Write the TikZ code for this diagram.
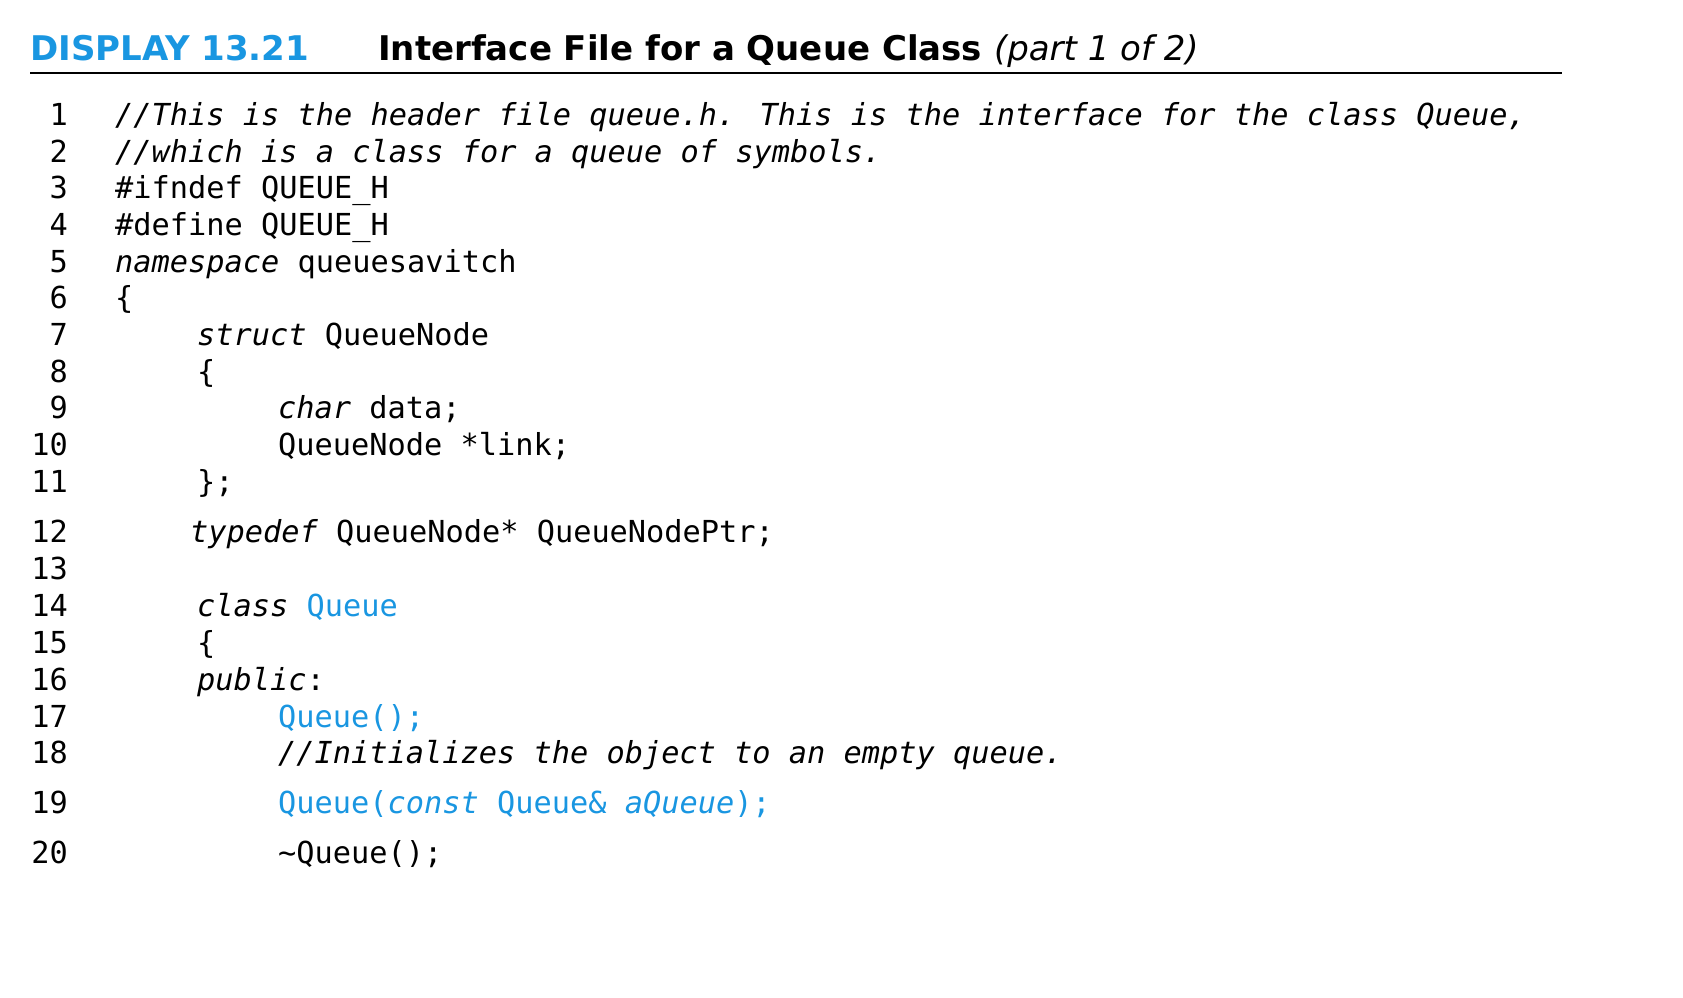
\documentclass[tikz,border=0pt]{standalone}
\usepackage{fontspec}
\setmainfont{DejaVu Sans}
\newfontfamily\codefont{DejaVu Sans Mono}
\definecolor{qblue}{RGB}{25,150,225}
\begin{document}
\begin{tikzpicture}[x=1pt,y=-1pt,
  code/.style={anchor=base west,inner sep=0pt,font=\codefont\fontsize{30.3}{31}\selectfont},
  num/.style={anchor=base east,inner sep=0pt,font=\codefont\fontsize{30.3}{31}\selectfont},
  ttl/.style={anchor=base west,inner sep=0pt,font=\bfseries\fontsize{34}{35}\selectfont}]
\useasboundingbox (0,0) rectangle (1683,997);
\node[ttl,text=qblue] (d) at (30,60) {DISPLAY 13.21};
\node[ttl] (t) at (378,60) {Interface File for a Queue Class \textmd{\itshape (part 1 of 2)}};
\draw[line width=2.5pt] (30,73) -- (1562,73);
\foreach \n/\y in {1/125,2/162,3/198,4/235,5/272,6/308,7/345,8/382,9/418,10/455,11/492,12/542,13/579,14/616,15/653,16/690,17/727,18/763,19/813,20/863}
  \node[num] (n\n) at (68,\y) {\n};
\node[code] (l1) at (115,125) {\itshape //This is the header file queue.h. This is the interface for the class Queue,};
\node[code] (l2) at (115,162) {\itshape //which is a class for a queue of symbols.};
\node[code] (l3) at (115,198) {\#ifndef QUEUE\_H};
\node[code] (l4) at (115,235) {\#define QUEUE\_H};
\node[code] (l5) at (115,272) {{\itshape namespace} queuesavitch};
\node[code] (l6) at (115,308) {\{};
\node[code] (l7) at (197,345) {{\itshape struct} QueueNode};
\node[code] (l8) at (197,382) {\{};
\node[code] (l9) at (278,418) {{\itshape char} data;};
\node[code] (l10) at (278,455) {QueueNode *link;};
\node[code] (l11) at (197,492) {\};};
\node[code] (l12) at (190,542) {{\itshape typedef} QueueNode* QueueNodePtr;};
\node[code] (l14) at (197,616) {{\itshape class} \textcolor{qblue}{Queue}};
\node[code] (l15) at (197,653) {\{};
\node[code] (l16) at (197,690) {{\itshape public}:};
\node[code,text=qblue] (l17) at (278,727) {Queue();};
\node[code] (l18) at (278,763) {\itshape //Initializes the object to an empty queue.};
\node[code,text=qblue] (l19) at (278,813) {Queue({\itshape const} Queue\& {\itshape aQueue});};
\node[code] (l20) at (278,863) {\textasciitilde Queue();};
\end{tikzpicture}
\end{document}
